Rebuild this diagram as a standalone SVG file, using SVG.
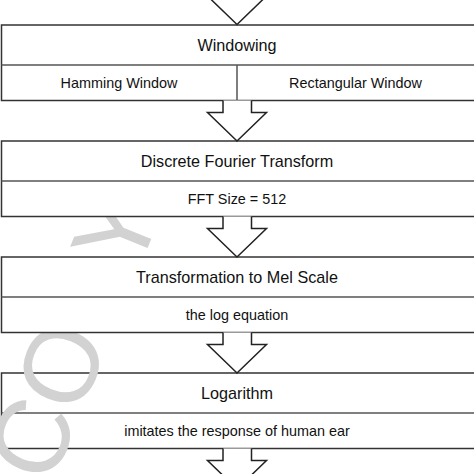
<svg xmlns="http://www.w3.org/2000/svg" width="474" height="474" viewBox="0 0 474 474">
<style>
.box{fill:#fff;stroke:#333;stroke-width:1.5}
.div{stroke:#555;stroke-width:1.5;fill:none}
.t{font-family:"Liberation Sans",Arial,sans-serif;font-size:16.2px;fill:#111;text-anchor:middle}
.s{font-family:"Liberation Sans",Arial,sans-serif;font-size:14.4px;fill:#111;text-anchor:middle}
.arr{fill:#fff;stroke:#222;stroke-width:1.5;stroke-linejoin:miter}
.wm{font-family:"Liberation Sans",Arial,sans-serif;font-size:105px;fill:#d2d2d2}
</style>
<rect width="474" height="474" fill="#fff"/>
<g id="logarithm">
<rect class="box" x="1.5" y="373" width="490" height="75.5"/>
<line class="div" x1="1.5" y1="413" x2="491.5" y2="413"/>
<text class="t" x="237" y="398.6">Logarithm</text>
<text class="s" x="237" y="435.8">imitates the response of human ear</text>
</g>
<text class="wm" transform="translate(51,487) rotate(-68)">COPY</text>
<g id="windowing">
<rect class="box" x="1.5" y="25" width="490" height="75.5"/>
<line class="div" x1="1.5" y1="65" x2="491.5" y2="65"/>
<line class="div" x1="237" y1="65" x2="237" y2="100.5"/>
<text class="t" x="237" y="50.6">Windowing</text>
<text class="s" x="119" y="87.6">Hamming Window</text>
<text class="s" x="355.5" y="87.6">Rectangular Window</text>
</g>
<g id="dft">
<rect class="box" x="1.5" y="141" width="490" height="75.5"/>
<line class="div" x1="1.5" y1="181" x2="491.5" y2="181"/>
<text class="t" x="237" y="166.6">Discrete Fourier Transform</text>
<text class="s" x="237" y="203.8">FFT Size = 512</text>
</g>
<g id="mel">
<rect class="box" x="1.5" y="257" width="490" height="75.5"/>
<line class="div" x1="1.5" y1="297" x2="491.5" y2="297"/>
<text class="t" x="237" y="282.6">Transformation to Mel Scale</text>
<text class="s" x="237" y="319.8">the log equation</text>
</g>
<g id="connectors">
<polyline class="arr" points="223,-20 223,-4 207.5,-4 237,24.5 266.5,-4 251.5,-4 251.5,-20"/>
<polyline class="arr" points="223,100.5 223,112.5 207.5,112.5 237,141 266.5,112.5 251.5,112.5 251.5,100.5"/>
<polyline class="arr" points="223,216.5 223,228.5 207.5,228.5 237,257 266.5,228.5 251.5,228.5 251.5,216.5"/>
<polyline class="arr" points="223,332.5 223,344.5 207.5,344.5 237,373 266.5,344.5 251.5,344.5 251.5,332.5"/>
<polyline class="arr" points="223,448.5 223,460.5 207.5,460.5 237,489 266.5,460.5 251.5,460.5 251.5,448.5"/>
</g>
</svg>
